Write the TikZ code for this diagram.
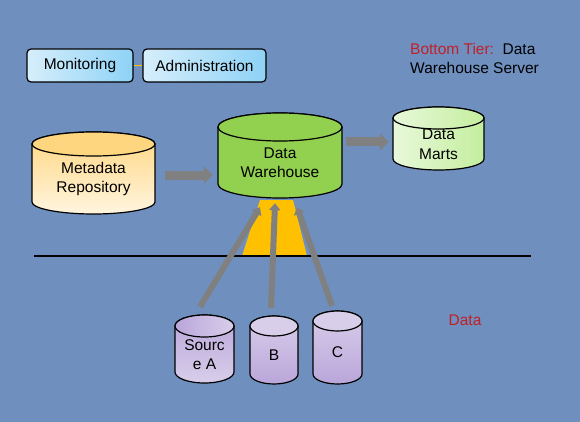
\documentclass[tikz,border=0pt]{standalone}
\usepackage{fontspec}
\setmainfont{Liberation Sans}
\usepackage{xcolor}
\usepackage{tikz}
\usetikzlibrary{arrows.meta}

\definecolor{bgblue}{RGB}{111,143,191}
\definecolor{toolA}{RGB}{214,238,251}
\definecolor{toolB}{RGB}{142,210,246}
\definecolor{dwgreen}{RGB}{146,208,80}
\definecolor{metaA}{RGB}{255,214,128}
\definecolor{metaB}{RGB}{255,245,224}
\definecolor{martA}{RGB}{232,248,218}
\definecolor{martB}{RGB}{196,238,158}
\definecolor{srcA}{RGB}{216,206,234}
\definecolor{srcB}{RGB}{186,166,218}
\definecolor{arrowgray}{RGB}{128,128,128}
\definecolor{tierred}{RGB}{192,32,40}
\definecolor{glow}{RGB}{255,192,0}

% #1 name, #2 left, #3 right, #4 top, #5 bottom, #6 ry, #7 body, #8 lid, #9 text
\newcommand{\drum}[9]{%
  \pgfmathsetmacro{\drumcx}{(#2+#3)/2}
  \pgfmathsetmacro{\drumrx}{(#3-#2)/2}
  \pgfmathsetmacro{\drumyt}{-(#4+#6)}
  \pgfmathsetmacro{\drumyb}{-(#5-#6)}
  \pgfmathsetmacro{\drumyc}{-(#4+#6+#5)/2}
  \pgfmathsetmacro{\drumh}{#5-#4-#6}
  \draw[outline,#7] (#2,\drumyt) -- (#2,\drumyb)
    arc[start angle=180,end angle=360,x radius=\drumrx,y radius=#6]
    -- (#3,\drumyt)
    arc[start angle=0,end angle=180,x radius=\drumrx,y radius=#6] -- cycle;
  \draw[outline,#8] (\drumcx,\drumyt) ellipse[x radius=\drumrx,y radius=#6];
  \node[drumlabel,minimum width=2*\drumrx,minimum height=\drumh] (#1) at (\drumcx,\drumyc) {#9};
}

\begin{document}
\begin{tikzpicture}[x=1pt,y=1pt,
  every node/.style={font=\fontsize{15.5}{19.5}\selectfont},
  outline/.style={draw=black,line width=1.2pt},
  drumlabel/.style={inner sep=0pt,align=center},
  toolbox/.style={draw=black,line width=1.2pt,rounded corners=4pt,minimum height=33pt,
    left color=toolA,right color=toolB,inner sep=0pt},
  bigarrow/.style={draw=arrowgray,line width=9pt,-{Triangle[length=9pt,width=17pt]}},
  feed/.style={draw=arrowgray,line width=6pt,-{Triangle[length=7pt,width=11pt]}}]
\useasboundingbox (0,0) rectangle (580,-422);
\fill[bgblue] (0,0) rectangle (580,-422);

\node[toolbox,minimum width=106pt] (mon) at (80,-65.5) {Monitoring};
\node[toolbox,minimum width=123pt] (adm) at (204.5,-65.5) {Administration};
\draw[glow,line width=1.5pt] (mon.east) -- (adm.west);

\node[anchor=north west,align=left,inner sep=0pt] (tier) at (410,-43)
  {\textcolor{tierred}{Bottom Tier:}\ \ Data\\Warehouse Server};

\fill[glow] (260,-200) -- (293,-200) -- (307,-256) -- (242,-256) -- cycle;
\draw[line width=1.2pt] (34,-256) -- (531,-256);

\drum{meta}{32}{155}{132}{214}{12}{top color=metaA,bottom color=metaB}{fill=metaA}{Metadata\\Repository}
\drum{dw}{218}{342}{113}{198}{14}{fill=dwgreen}{fill=dwgreen}{Data\\Warehouse}
\drum{marts}{393}{484}{107}{170}{11}{left color=martA,right color=martB}{left color=martA,right color=martB}{Data\\Marts}
\drum{srca}{175}{234}{315}{383}{11}{top color=srcB,bottom color=srcA}{left color=srcB,right color=srcA}{Sourc\\e A}
\drum{srcb}{250}{298}{316}{384}{10}{top color=srcA,bottom color=srcB}{fill=srcA}{B}
\drum{srcc}{313}{362}{311}{384}{10}{top color=srcA,bottom color=srcB}{fill=srcA}{C}

\draw[bigarrow,shorten <=10pt,shorten >=5pt] ([yshift=4pt]meta.east) -- ([yshift=-12.5pt]dw.west);
\draw[bigarrow,shorten <=4pt,shorten >=4pt] ([yshift=20.5pt]dw.east) -- ([yshift=2pt]marts.west);

\draw[feed] ([shift={(-4.5,19)}]srca.north) -- ([shift={(-20,-9)}]dw.south);
\draw[feed] ([shift={(-3,18)}]srcb.north) -- ([shift={(-5,-5)}]dw.south);
\draw[feed] ([shift={(-5.5,15)}]srcc.north) -- ([shift={(17,-9)}]dw.south);

\node[text=tierred] (datalbl) at (465,-320) {Data};
\end{tikzpicture}
\end{document}
